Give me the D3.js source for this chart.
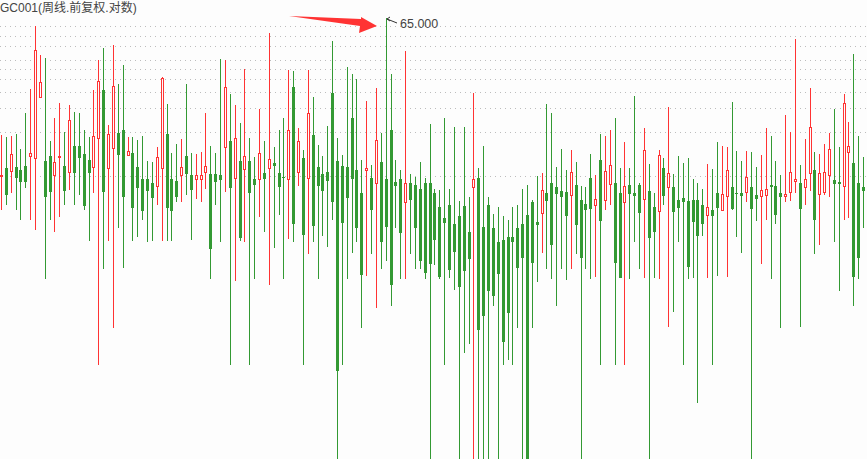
<!DOCTYPE html>
<html><head><meta charset="utf-8">
<style>html,body{margin:0;padding:0;background:#fdfdfd}svg{display:block}text{font-family:"Liberation Sans","Noto Sans CJK SC",sans-serif}</style>
<script src="https://cdnjs.cloudflare.com/ajax/libs/d3/7.8.5/d3.min.js"></script>
</head><body><svg id="c"></svg>
<script>
const titleText = "GC001(周线.前复权.对数)";
const peakLabel = "65.000";
// Price levels of the dotted log grid
const gridPrices = [56.7,48.0,40.6,32.2,27.7,23.4,18.8,14.4,9.67,4.64];
// Weekly candles, in log-rate points: price = 10^(points/138)
const logOpen = [91,100,96,101,98,102,111,109,170,107,112,92,110,102,95,122,122,114,108,100,129,178,99,119,135,138,112,115,101,89,89,85,81,99,134,89,87,92,112,93,88,88,95,94,94,93,120,127,89,107,98,107,89,88,95,99,105,95,91,88,181,95,110,89,133,101,94,96,175,107,102,101,150,98,75,97,90,84,106,89,138,86,89,65,85,83,79,85,85,75,61,50,63,44,52,62,36,80,90,41,63,40,26,28,31,31,40,44,53,66,46,54,75,85,81,77,76,72,83,68,64,90,62,108,67,83,85,75,65,83,75,83,68,77,61,56,100,80,81,68,70,67,68,68,63,52,58,75,57,71,81,75,75,75,81,73,71,72,83,82,75,71,75,86,85,80,94,98,73,75,92,88,86,81,115,105,85,81];
const logClose = [93,73,114,90,86,86,115,218,186,71,76,106,112,77,148,95,110,62,95,132,187,76,134,182,113,71,117,60,80,57,77,70,111,190,60,57,71,101,94,78,93,93,102,19,86,88,181,80,130,30,112,75,83,115,89,109,102,81,90,138,44,127,33,155,42,82,77,87,66,-103,45,70,89,40,-7,100,58,128,26,41,-17,82,35,85,68,40,7,-5,4,28,-9,45,-2,16,-19,-3,9,89,-62,-48,-23,-28,-6,-74,-45,26,0,10,-202,5,43,78,67,23,74,71,52,96,43,10,58,59,69,47,97,103,5,-10,82,74,72,55,118,30,36,113,72,95,56,60,66,1,46,32,44,61,52,60,74,98,59,74,72,91,59,69,78,79,81,53,71,74,96,89,59,89,141,48,95,96,119,84,84,165,122,-9,10,77];
const logHigh = [133,131,132,134,119,155,179,242,213,210,127,150,165,136,163,156,155,138,131,178,208,220,143,223,184,203,131,131,128,132,107,106,121,191,164,115,124,129,184,115,114,116,155,122,115,209,208,174,163,145,199,130,111,159,127,235,121,138,150,198,197,140,118,198,171,123,112,142,227,130,113,201,194,189,108,167,103,180,135,250,194,108,98,217,94,91,106,90,144,79,78,150,79,141,67,141,71,175,100,122,71,54,61,52,48,61,63,79,83,68,92,95,164,155,101,119,98,118,106,82,81,114,93,134,132,138,150,100,126,100,172,85,140,104,75,118,110,161,94,112,105,110,89,85,79,104,99,126,122,121,166,117,107,117,116,101,113,140,132,107,93,153,136,229,103,129,180,116,114,124,135,159,121,174,146,214,132,111];
const logLow = [58,63,75,58,48,80,48,38,170,-11,48,36,51,63,78,63,73,58,27,75,-97,-1,27,-60,40,0,112,27,31,48,26,27,63,27,27,27,66,66,73,28,69,66,79,-11,63,26,76,-97,-13,27,26,-97,-11,51,36,-17,20,53,-11,29,26,82,-97,14,26,-11,32,21,48,-202,-97,-11,15,26,-60,-8,14,-40,-1,7,-38,40,-11,-11,14,-1,-1,-11,-202,3,-11,-97,-10,-22,-202,-85,-76,-202,-202,-202,-202,-38,-202,-97,-92,-97,-60,-202,-202,-60,-14,15,-1,-11,-38,-1,-12,-1,14,-202,-1,-11,-9,-97,58,63,-97,-10,-97,-11,26,-1,-10,-202,-10,-11,63,-59,-44,26,-97,-11,-10,-135,32,-10,-97,-8,57,-9,58,31,15,66,-202,47,4,48,-11,44,-60,66,67,75,-59,63,77,14,23,73,71,26,-23,48,50,-38,-11,40];

const W = 867, H = 459;
const GREEN = "#339933", RED = "#ff3333", GRID = "#bdbdbd", INK = "#444444";
const price = p => Math.pow(10, p / 138);
const svg = d3.select("#c").attr("width", W).attr("height", H);
svg.append("rect").attr("width", W).attr("height", H).attr("fill", "#fdfdfd");

const y = d3.scaleLog().domain([price(268), price(-191)]).range([0, H]);
const x = d3.scaleLinear().domain([0, logOpen.length - 1]).range([1.4, 863.6]);

svg.append("g").selectAll("line").data(gridPrices).join("line")
  .attr("x1", 0).attr("x2", W)
  .attr("y1", d => Math.round(y(d)) + 0.5).attr("y2", d => Math.round(y(d)) + 0.5)
  .attr("stroke", GRID).attr("stroke-dasharray", "1 4");

const candles = d3.range(logOpen.length).map(i => ({
  i, o: price(logOpen[i]), c: price(logClose[i]), h: price(logHigh[i]), l: price(logLow[i]), up: logClose[i] > logOpen[i]
}));
const px = d => Math.round(x(d.i) - 0.5);
const g = svg.append("g").attr("shape-rendering", "crispEdges");
g.selectAll("rect.w").data(candles).join("rect").attr("class", "w")
  .attr("x", px).attr("width", 1)
  .attr("y", d => Math.round(y(d.h)))
  .attr("height", d => Math.max(1, Math.round(y(d.l)) - Math.round(y(d.h))))
  .attr("fill", d => d.up ? RED : GREEN);
g.selectAll("rect.b").data(candles).join("rect").attr("class", "b")
  .attr("x", d => d.up ? px(d) - 0.5 : px(d) - 1)
  .attr("width", d => d.up ? 2 : 3)
  .attr("y", d => Math.round(y(Math.max(d.o, d.c))) + (d.up ? 0.5 : 0))
  .attr("height", d => Math.max(1, Math.round(y(Math.min(d.o, d.c))) - Math.round(y(Math.max(d.o, d.c)))) - (d.up ? 1 : 0))
  .attr("fill", d => d.up ? "#fdfdfd" : GREEN)
  .attr("stroke", d => d.up ? RED : "none").attr("stroke-width", 1);

// Title
svg.append("text").attr("x", 0).attr("y", 12).attr("font-size", 12).attr("fill", INK).text(titleText);

// Peak marker
const peakI = logHigh.indexOf(d3.max(logHigh));
const peakX = px({i: peakI}), peakY = Math.round(y(price(logHigh[peakI])));
svg.append("path").attr("fill", "none").attr("stroke", "#333").attr("stroke-width", 1)
  .attr("d", d3.line()([[peakX + 11, peakY + 5], [peakX + 1, peakY + 1]]) + d3.line()([[peakX + 4, peakY - 1], [peakX + 1, peakY + 1], [peakX + 4, peakY + 3]]));
svg.append("text").attr("x", peakX + 14).attr("y", peakY + 10).attr("font-size", 12.5).attr("fill", INK).text(peakLabel);

// Red callout arrow
svg.append("path").attr("fill", RED)
  .attr("d", d3.line()([[289,16],[361,19],[361,17],[377,26],[359,33],[360,26]]) + "Z");
</script></body></html>
